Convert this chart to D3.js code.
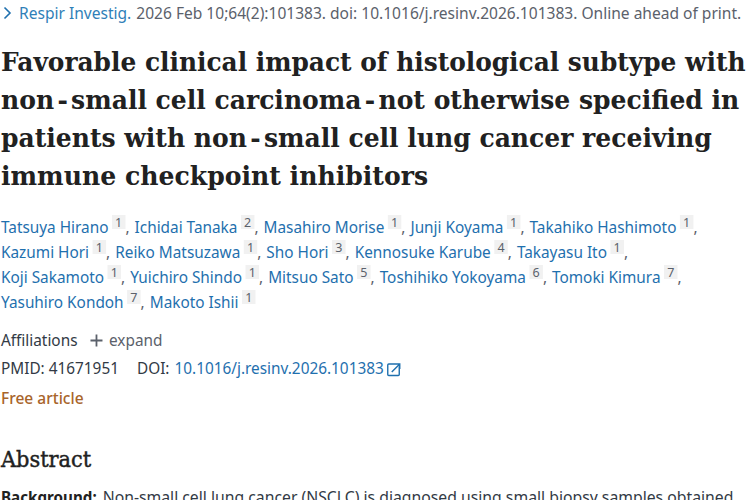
<!DOCTYPE html>
<html>

<head>
  <meta charset="utf-8">
  <script src="https://d3js.org/d3.v7.min.js"></script>
  <style>
    html, body { margin: 0; padding: 0; background: #fff; overflow: hidden; }
  </style>
</head>

<body>
  <svg id="page" width="750" height="500"></svg>

  <script>
    const journal = "Respir Investig.";
    const citation = "2026 Feb 10;64(2):101383. doi: 10.1016/j.resinv.2026.101383. Online ahead of print.";
    const titleLines = [
      "Favorable clinical impact of histological subtype with",
      "non-small cell carcinoma-not otherwise specified in",
      "patients with non-small cell lung cancer receiving",
      "immune checkpoint inhibitors"
    ];
    const authorNames = [
      ["Tatsuya Hirano", "Ichidai Tanaka", "Masahiro Morise", "Junji Koyama", "Takahiko Hashimoto"],
      ["Kazumi Hori", "Reiko Matsuzawa", "Sho Hori", "Kennosuke Karube", "Takayasu Ito"],
      ["Koji Sakamoto", "Yuichiro Shindo", "Mitsuo Sato", "Toshihiko Yokoyama", "Tomoki Kimura"],
      ["Yasuhiro Kondoh", "Makoto Ishii"]
    ];
    const authorAffils = [
      [1, 2, 1, 1, 1],
      [1, 1, 3, 4, 1],
      [1, 1, 5, 6, 7],
      [7, 1]
    ];
    const pmid = "41671951";
    const doi = "10.1016/j.resinv.2026.101383";
    const backgroundText = "Non-small cell lung cancer (NSCLC) is diagnosed using small biopsy samples obtained";

    const svg = d3.select("#page");
    const sans = "'Noto Sans', 'Open Sans', sans-serif";
    const serif = "'DejaVu Serif', serif";
    const blue = "#1f70ae", grey = "#5b616b", dark = "#212121";

    function put(text, x, y, opts) {
      const o = Object.assign({ size: 16, fill: dark, family: sans, weight: 400, sx: 0.96, stroke: 0 }, opts);
      const t = svg.append("text")
        .attr("transform", `translate(${x},${y}) scale(${o.sx},1)`)
        .attr("font-family", o.family)
        .attr("font-size", o.size)
        .attr("font-weight", o.weight)
        .attr("fill", o.fill)
        .attr("stroke", o.stroke ? o.fill : "none")
        .attr("stroke-width", o.stroke)
        .text(text);
      return x + t.node().getComputedTextLength() * o.sx;
    }

    // citation line
    svg.append("path")
      .attr("d", "M4.5 7.5 L10 13 L4.5 18.5")
      .attr("fill", "none")
      .attr("stroke", blue)
      .attr("stroke-width", 1.6);
    let cx = put(journal, 19, 18.5, { fill: "#2f7fb8", sx: 0.973 });
    put(citation, cx + 5, 18.5, { fill: grey, sx: 0.973 });

    // title, the hyphens sit wider in the original
    const titleScale = [0.938, 0.945, 0.945, 0.948];
    titleLines.forEach((line, i) => {
      const t = svg.append("text")
        .attr("transform", `translate(1,${71 + i * 38}) scale(${titleScale[i]},1)`)
        .attr("font-family", serif)
        .attr("font-size", 26.5)
        .attr("font-weight", 700)
        .attr("fill", dark);
      line.split("-").forEach((part, j) => {
        if (j > 0) {
          t.append("tspan").attr("dx", 3.5).text("-");
          t.append("tspan").attr("dx", 3.5).text(part);
        } else {
          t.append("tspan").text(part);
        }
      });
    });

    // authors
    authorNames.forEach((names, row) => {
      const y = 232.5 + row * 25;
      let x = 1;
      names.forEach((name, i) => {
        x = put(name, x, y, { fill: blue });
        svg.append("rect")
          .attr("x", x + 3.5).attr("y", y - 17.5)
          .attr("width", 13.5).attr("height", 14)
          .attr("fill", "#f1f1f1");
        svg.append("text")
          .attr("x", x + 10.2).attr("y", y - 6)
          .attr("text-anchor", "middle")
          .attr("font-family", sans).attr("font-size", 12.5)
          .attr("fill", grey)
          .text(authorAffils[row][i]);
        x += 17;
        const last = row === authorNames.length - 1 && i === names.length - 1;
        if (!last) {
          x = put(",", x, y, { fill: grey });
          x += 5;
        }
      });
    });

    // meta rows
    let ax = put("Affiliations", 1, 345.5, { fill: "#323a45" });
    svg.append("path")
      .attr("d", `M${ax + 13} 340.5 h12 M${ax + 19} 334.5 v12`)
      .attr("stroke", grey)
      .attr("stroke-width", 1.8);
    put("expand", ax + 31.5, 345.5, { fill: grey });

    let px = put("PMID: " + pmid, 1, 374, { fill: "#323a45" });
    let dx = put("DOI:", px + 18, 374, { fill: "#323a45" });
    let lx = put(doi, dx + 5, 374, { fill: blue });
    svg.append("path")
      .attr("d", `M${lx + 13} 364 h-8 a1 1 0 0 0 -1 1 v9.5 a1 1 0 0 0 1 1 h9.5 a1 1 0 0 0 1 -1 v-8 M${lx + 8} 372 l7.5 -7.5 M${lx + 11} 364 h5 v5`)
      .attr("fill", "none")
      .attr("stroke", blue)
      .attr("stroke-width", 1.4);

    put("Free article", 1, 404, { fill: "#a8642a", weight: 500, sx: 0.97 });

    // abstract
    put("Abstract", 1, 466.5, { family: serif, size: 23, sx: 0.91, stroke: 0.45 });
    let bx = put("Background:", 1, 503, { weight: 700, sx: 0.95 });
    put(backgroundText, bx + 6, 503, { fill: "#323a45", sx: 0.985 });
  </script>
</body>

</html>
